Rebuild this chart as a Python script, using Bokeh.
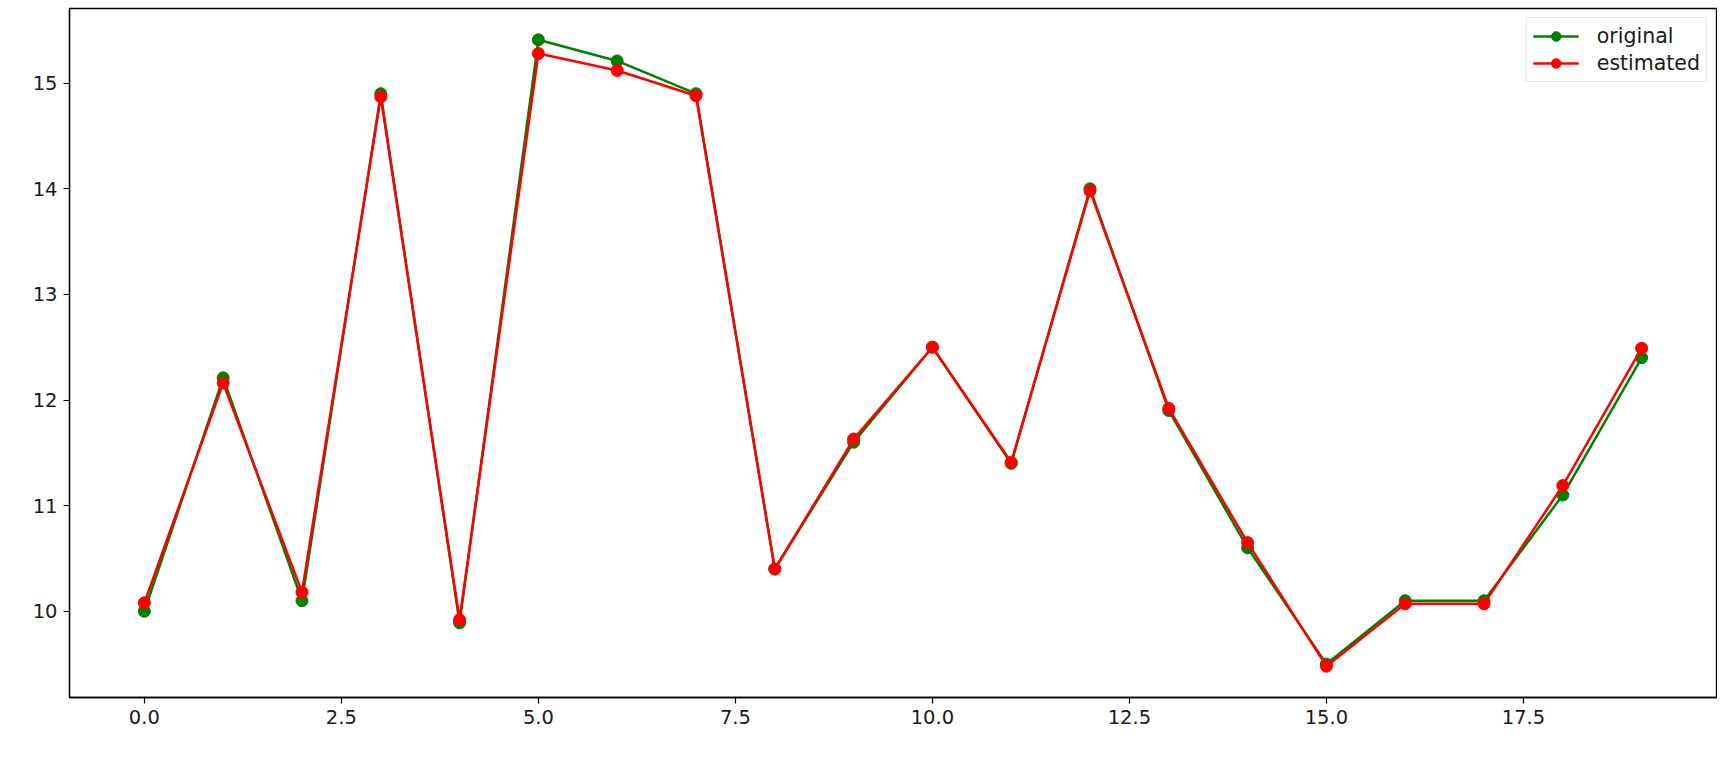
from bokeh.plotting import figure
from bokeh.models import Range1d, FixedTicker, NumeralTickFormatter, Legend, LegendItem
from bokeh.embed import file_html
from bokeh.resources import INLINE

# data
x_idx = list(range(20))
original = [10.0, 12.21, 10.1, 14.9, 9.89, 15.41, 15.21, 14.9, 10.4, 11.6,
            12.5, 11.4, 14.0, 11.9, 10.6, 9.5, 10.1, 10.1, 11.1, 12.4]
estimated = [10.08, 12.16, 10.18, 14.87, 9.92, 15.28, 15.12, 14.88, 10.4, 11.63,
             12.5, 11.41, 13.98, 11.92, 10.65, 9.48, 10.07, 10.07, 11.19, 12.49]
x_ticks = [0.0, 2.5, 5.0, 7.5, 10.0, 12.5, 15.0, 17.5]
y_ticks = [10, 11, 12, 13, 14, 15]
labels = ["original", "estimated"]
colors = ["#008000", "#ff0000"]

# matplotlib-like 5% margins
xmin, xmax = min(x_idx), max(x_idx)
xpad = 0.05 * (xmax - xmin)
allv = original + estimated
ymin, ymax = min(allv), max(allv)
ypad = 0.05 * (ymax - ymin)

p = figure(width=1717, height=746, output_backend="svg", toolbar_location=None,
           x_range=Range1d(xmin - xpad, xmax + xpad),
           y_range=Range1d(ymin - ypad, ymax + ypad),
           min_border_left=69, min_border_right=1, min_border_top=8, min_border_bottom=49)
p.grid.visible = False
p.outline_line_color = "black"
p.outline_line_width = 1.3
p.outline_line_alpha = 1.0
p.background_fill_color = "white"
p.border_fill_color = "white"

for ax in (p.xaxis[0], p.yaxis[0]):
    ax.axis_line_color = "black"
    ax.axis_line_width = 1.3
    ax.major_tick_line_color = "black"
    ax.major_tick_line_width = 1.2
    ax.major_tick_out = 6
    ax.major_tick_in = 0
    ax.minor_tick_line_color = None
    ax.major_label_text_font = "DejaVu Sans"
    ax.major_label_text_font_size = "19.5px"
    ax.major_label_text_color = "#1a1a1a"
    ax.major_label_standoff = 6

p.xaxis.ticker = FixedTicker(ticks=x_ticks)
p.xaxis.formatter = NumeralTickFormatter(format="0.0")
p.yaxis.ticker = FixedTicker(ticks=y_ticks)

items = []
for series, lab, col in zip([original, estimated], labels, colors):
    r1 = p.line(x_idx, series, line_color=col, line_width=2.5)
    r2 = p.scatter(x_idx, series, size=12, fill_color=col, line_color=col)
    items.append(LegendItem(label=lab, renderers=[r1, r2]))

legend = Legend(items=items, location="top_right")
legend.label_text_font = "DejaVu Sans"
legend.label_text_font_size = "20.5px"
legend.label_text_color = "#1a1a1a"
legend.border_line_color = "#cccccc"
legend.border_line_width = 1
legend.background_fill_alpha = 0.85
legend.glyph_width = 46
legend.glyph_height = 24
legend.label_height = 24
legend.label_standoff = 18
legend.spacing = 3
legend.padding = 6
legend.margin = 9
p.add_layout(legend)

open("out.html", "w").write(file_html(p, INLINE))
